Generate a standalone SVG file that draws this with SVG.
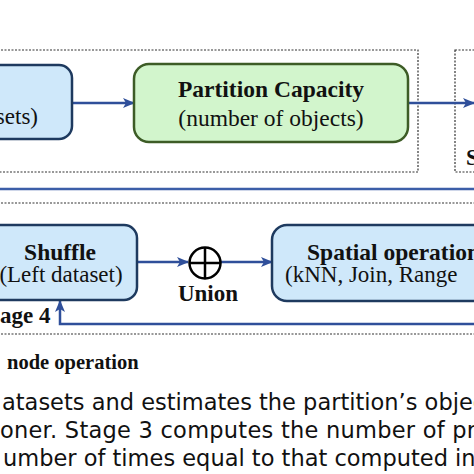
<svg xmlns="http://www.w3.org/2000/svg" width="474" height="474" viewBox="0 0 474 474">
<defs>
<marker id="ah" viewBox="0 0 12 10" refX="11" refY="5" markerWidth="12" markerHeight="10" markerUnits="userSpaceOnUse" orient="auto">
<path d="M0,0 L12,5 L0,10 L3,5 Z" fill="#2f4f9a"/>
</marker>
<style>
.stage{fill:none;stroke:#333;stroke-width:1.2;stroke-dasharray:2 1.5}
.blue{fill:#cfe8fa;stroke:#1e3a5f;stroke-width:2.5}
.green{fill:#d2f5cc;stroke:#3d5c26;stroke-width:2.5}
.con{fill:none;stroke:#2f4f9a;stroke-width:2.5}
.bus{fill:none;stroke:#3c5ea8;stroke-width:2.5}
.b{font-family:"Liberation Serif",serif;font-weight:bold;fill:#111}
.r{font-family:"Liberation Serif",serif;fill:#111}
.s{font-family:"DejaVu Sans",sans-serif;fill:#111;font-size:22.5px}
</style>
</defs>
<rect width="474" height="474" fill="#fff"/>
<g id="stages">
<rect class="stage" x="-20" y="50" width="438" height="122"/>
<rect class="stage" x="455" y="50" width="40" height="122"/>
<rect class="stage" x="-20" y="203" width="520" height="131"/>
<text class="b" x="466" y="165" font-size="23">S</text>
<text class="b" x="0" y="323" font-size="23">age 4</text>
</g>
<g id="connectors">
<path class="con" d="M72,103 H134" marker-end="url(#ah)"/>
<path class="con" d="M408,103 H474" marker-end="url(#ah)"/>
<path class="con" d="M137,262 H188" marker-end="url(#ah)"/>
<path class="con" d="M221,262 H272" marker-end="url(#ah)"/>
<path class="con" d="M480,324 H60 V301" marker-end="url(#ah)"/>
<path class="bus" d="M0,189 H474"/>
</g>
<g id="datasets">
<rect class="blue" x="-30" y="65" width="102" height="74" rx="13"/>
<text class="r" x="38" y="124" font-size="23" text-anchor="end">sets)</text>
</g>
<g id="partition-capacity">
<rect class="green" x="134" y="64" width="274" height="78" rx="15"/>
<text class="b" x="271" y="97" font-size="23.5" text-anchor="middle">Partition Capacity</text>
<text class="r" x="271" y="126" font-size="23.5" text-anchor="middle">(number of objects)</text>
</g>
<g id="shuffle">
<rect class="blue" x="-15" y="225" width="152" height="75" rx="13"/>
<text class="b" x="60" y="260" font-size="23.5" text-anchor="middle">Shuffle</text>
<text class="r" x="61" y="282" font-size="23" text-anchor="middle">(Left dataset)</text>
</g>
<g id="union">
<circle cx="205" cy="263" r="15.5" fill="#fff" stroke="#000" stroke-width="2.5"/>
<path d="M205,247.5 V278.5 M189.5,263 H220.5" stroke="#000" stroke-width="2.5"/>
<text class="b" x="208" y="301" font-size="23" text-anchor="middle">Union</text>
</g>
<g id="spatial-operation">
<rect class="blue" x="272" y="225" width="230" height="76" rx="15"/>
<text class="b" x="307" y="260" font-size="23.5">Spatial operation</text>
<text class="r" x="285" y="282" font-size="23">(kNN, Join, Range</text>
</g>
<g id="caption">
<text class="b" x="7" y="369" font-size="20.5">node operation</text>
<text class="s" x="2" y="410">atasets and estimates the partition’s objec</text>
<text class="s" x="0" y="438" letter-spacing="0.25">oner. Stage 3 computes the number of pr</text>
<text class="s" x="3" y="466">umber of times equal to that computed in</text>
</g>
</svg>
